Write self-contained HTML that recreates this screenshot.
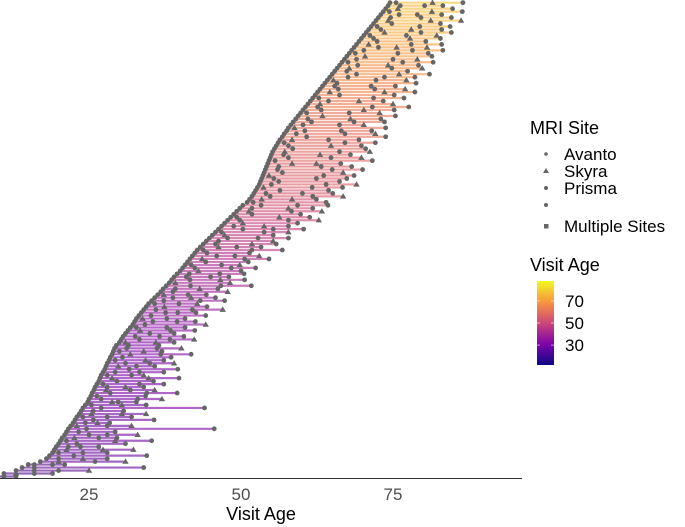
<!DOCTYPE html>
<html><head><meta charset="utf-8"><style>
body{margin:0;background:#fff;}
svg{display:block;font-family:"Liberation Sans",Arial,sans-serif;}
</style></head><body>
<svg id="chart" width="685" height="527" viewBox="0 0 685 527">
<defs>
<linearGradient id="plasma" x1="0" y1="1" x2="0" y2="0">
<stop offset="0" stop-color="#0d0887"/><stop offset="0.25" stop-color="#7e03a8"/><stop offset="0.5" stop-color="#cc4778"/><stop offset="0.75" stop-color="#f89540"/><stop offset="1" stop-color="#f0f921"/>
</linearGradient>
</defs>
<g id="plot"></g>
<line x1="0" y1="478.5" x2="522" y2="478.5" stroke="#333" stroke-width="1"/>
<g id="xticks"></g>
<text x="261" y="520" text-anchor="middle" font-size="18" fill="#000">Visit Age</text>
<g>
<text x="530" y="134" font-size="18">MRI Site</text>
<g><circle cx="546" cy="154" r="1.8" fill="#666"/><text x="564" y="160" font-size="17">Avanto</text></g>
<g><polygon points="546,168 549,173 543,173" fill="#666"/><text x="564" y="177" font-size="17">Skyra</text></g>
<g><circle cx="546" cy="188" r="2" fill="#666"/><text x="564" y="194" font-size="17">Prisma</text></g>
<g><circle cx="546" cy="205" r="2" fill="#666"/></g>
<g><rect x="544" y="224" width="4.5" height="4.5" fill="#666"/><text x="564" y="232" font-size="17">Multiple Sites</text></g>
</g>
<g>
<text x="530" y="271" font-size="18">Visit Age</text>
<rect x="537" y="281" width="17" height="84" fill="url(#plasma)"/>
<g id="cticks"></g>
</g>
</svg>
<script>
const startAge=[10,11,13,14,15,17,18,18.5,19,19.3,
19.6,20,20.3,20.6,21,21.3,21.6,22,22.4,22.7,
23,23.4,23.7,24,24.4,24.8,25,25.3,25.5,25.8,
26,26.3,26.6,26.8,27,27.3,27.6,27.8,28,28.3,
28.5,28.8,29,29.2,29.5,30,30.3,30.6,31,31.4,
31.8,32.2,32.5,32.8,33.2,33.6,34,34.4,34.8,35.3,
35.8,36.3,36.8,37.2,37.7,38.2,38.6,39,39.5,40,
40.4,40.8,41.2,41.6,42,42.4,42.8,43.3,43.8,44.3,
44.8,45.3,45.8,46.3,46.8,47.3,47.8,48.3,48.8,49.3,
49.8,50.3,51,51.4,51.8,52.1,52.4,52.7,53,53.2,
53.4,53.6,53.8,54,54.2,54.4,54.6,54.8,55,55.2,
55.5,55.8,56.1,56.4,56.8,57.1,57.5,57.8,58.2,58.6,
59,59.4,59.8,60.2,60.6,61,61.4,61.8,62.2,62.6,
63,63.4,63.8,64.2,64.6,65,65.4,65.8,66.2,66.6,
67,67.4,67.8,68.2,68.6,69,69.4,69.8,70.2,70.6,
71,71.4,71.8,72.2,72.6,73,73.4,73.8,74.2,74.5];
const duration=[3,8,12,20,6,14,10,16,9,13,
7,11,15,9,12,8,24,10,6,13,
9,11,7,20,10,8,12,9,14,10,
8,11,9,13,7,10,12,8,11,9,
10,13,8,11,7,9,12,10,8,11,
9,12,10,8,11,9,13,10,8,12,
10,8,11,9,14,10,12,9,11,10,
12,9,10,13,11,9,14,10,12,11,
13,10,12,14,11,12,15,13,11,14,
12,14,13,11,15,13,12,14,16,13,
14,15,13,16,14,12,17,15,13,16,
15,14,16,13,17,15,14,16,12,15,
14,16,13,15,17,14,12,15,13,16,
14,12,15,13,14,16,12,14,13,15,
12,14,13,15,12,14,11,13,12,14,
12,13,11,14,12,10,13,11,9,12];
const secondVisit=[1,2,3,2,1,3,2,4,1,2,
2,3,1,2,4,2,3,1,2,3,
1,2,2,3,1,4,2,1,3,2,
2,1,3,2,1,2,4,2,3,1,
2,3,1,2,2,1,3,2,4,2,
1,2,3,1,2,4,2,3,1,2,
3,1,2,2,4,1,3,2,2,3,
2,1,3,2,4,2,1,3,2,2,
3,2,1,4,2,3,2,1,3,2,
2,3,1,2,3,2,4,1,2,3,
2,1,3,2,2,4,1,3,2,2,
3,2,1,2,4,2,3,1,2,3,
2,4,1,3,2,2,3,1,4,2,
3,2,2,1,3,4,2,2,3,1,
2,3,1,2,4,2,3,2,1,3,
2,1,3,2,2,3,1,2,2,1];
const thirdVisit=[0,5,7,0,4,9,6,0,5,8,
4,0,9,6,7,0,0,6,4,0,
5,7,0,0,6,5,8,0,9,6,
5,7,0,8,5,6,0,5,7,6,
0,8,5,7,0,6,8,6,0,7,
6,0,7,5,0,6,8,0,5,8,
6,5,0,6,9,0,8,6,7,0,
8,6,0,9,7,0,9,6,8,0,
8,0,8,9,7,0,10,8,0,9,
8,9,0,7,10,8,0,9,11,0,
9,10,0,11,9,8,0,10,8,11,
0,9,11,8,0,10,9,0,8,10,
9,0,8,10,11,0,8,10,0,11,
9,8,0,8,9,11,0,9,8,10,
8,0,8,10,7,9,0,8,7,9,
7,8,0,9,7,6,8,0,6,7];
const endSite="ACTAATCAATCAAATCATAACTAAACTAATACAATCAATAACATAATCAACTAACATATAACTAATCAACATAATCAAATCATAACTAATACAATCAATAACTAAACTATAACAATCATAACTAATACAATCATAACTAATACATAACTAACAT";
const xTicks=[25,50,75];
const cTicks=[30,50,70];

const NS="http://www.w3.org/2000/svg";
const xs=a=>89+(a-25)*6.08;
const rowY=i=>476.5-i*2.98;
const stops=[[13,71,8,135],[34,126,3,168],[55,204,71,120],[74,248,149,64],[89,240,249,33]];
function col(a){
  if(a<=stops[0][0])return`rgb(${stops[0][1]},${stops[0][2]},${stops[0][3]})`;
  for(let k=1;k<stops.length;k++){if(a<=stops[k][0]){const p=stops[k-1],q=stops[k],t=(a-p[0])/(q[0]-p[0]);
    return`rgb(${Math.round(p[1]+(q[1]-p[1])*t)},${Math.round(p[2]+(q[2]-p[2])*t)},${Math.round(p[3]+(q[3]-p[3])*t)})`;}}
  const l=stops[stops.length-1];return`rgb(${l[1]},${l[2]},${l[3]})`;
}
const plot=document.getElementById('plot');
const segG=document.createElementNS(NS,'g');plot.appendChild(segG);
const ptG=document.createElementNS(NS,'g');plot.appendChild(ptG);
function marker(x,y,code){
  let el;
  if(code==='T'){el=document.createElementNS(NS,'polygon');el.setAttribute('points',`${x},${y-3.2} ${x+3.2},${y+2.2} ${x-3.2},${y+2.2}`);}
  else{el=document.createElementNS(NS,'circle');el.setAttribute('cx',x);el.setAttribute('cy',y);el.setAttribute('r',2.4);}
  el.setAttribute('fill','#666');
  return el;
}
for(let i=0;i<startAge.length;i++){
  const a0=startAge[i],a1=a0+duration[i],y=rowY(i);
  const ln=document.createElementNS(NS,'line');
  
  
  ln.setAttribute('x1',xs(a0));ln.setAttribute('x2',xs(a1));ln.setAttribute('y1',y);ln.setAttribute('y2',y);
  ln.setAttribute('stroke',col((a0+a1)/2));ln.setAttribute('stroke-width',2.2);ln.setAttribute('opacity',0.6);
  segG.appendChild(ln);
  const m0=marker(xs(a0),y,'C');
  
  
  ptG.appendChild(m0);
  if(secondVisit[i]>0&&secondVisit[i]<duration[i]){
    const m2=marker(xs(a0+secondVisit[i]),y,i%4===1?'T':'C');
    
    
    ptG.appendChild(m2);
  }
  if(thirdVisit[i]>0&&thirdVisit[i]<duration[i]){
    const m3=marker(xs(a0+thirdVisit[i]),y,i%3===0?'T':'C');
    
    
    ptG.appendChild(m3);
  }
  const m1=marker(xs(a1),y,endSite[i]||'A');
  
  
  ptG.appendChild(m1);
}
const xt=document.getElementById('xticks');
xTicks.forEach(v=>{
  const t=document.createElementNS(NS,'text');
  
  
  t.setAttribute('x',xs(v));t.setAttribute('y',500);t.setAttribute('text-anchor','middle');
  t.setAttribute('font-size',17);t.setAttribute('fill','#4d4d4d');t.textContent=v;xt.appendChild(t);
});
const ct=document.getElementById('cticks');
const cy=a=>365-(a-12)*(84/76);
cTicks.forEach(v=>{
  const l=document.createElementNS(NS,'line');
  
  
  l.setAttribute('x1',537);l.setAttribute('x2',554);l.setAttribute('y1',cy(v));l.setAttribute('y2',cy(v));
  l.setAttribute('stroke','#fff');l.setAttribute('stroke-opacity',0.6);l.setAttribute('stroke-dasharray','3 11');ct.appendChild(l);
  const t=document.createElementNS(NS,'text');
  
  
  t.setAttribute('x',565);t.setAttribute('y',cy(v)+6);t.setAttribute('font-size',17);t.textContent=v;ct.appendChild(t);
});
</script>
</body></html>
